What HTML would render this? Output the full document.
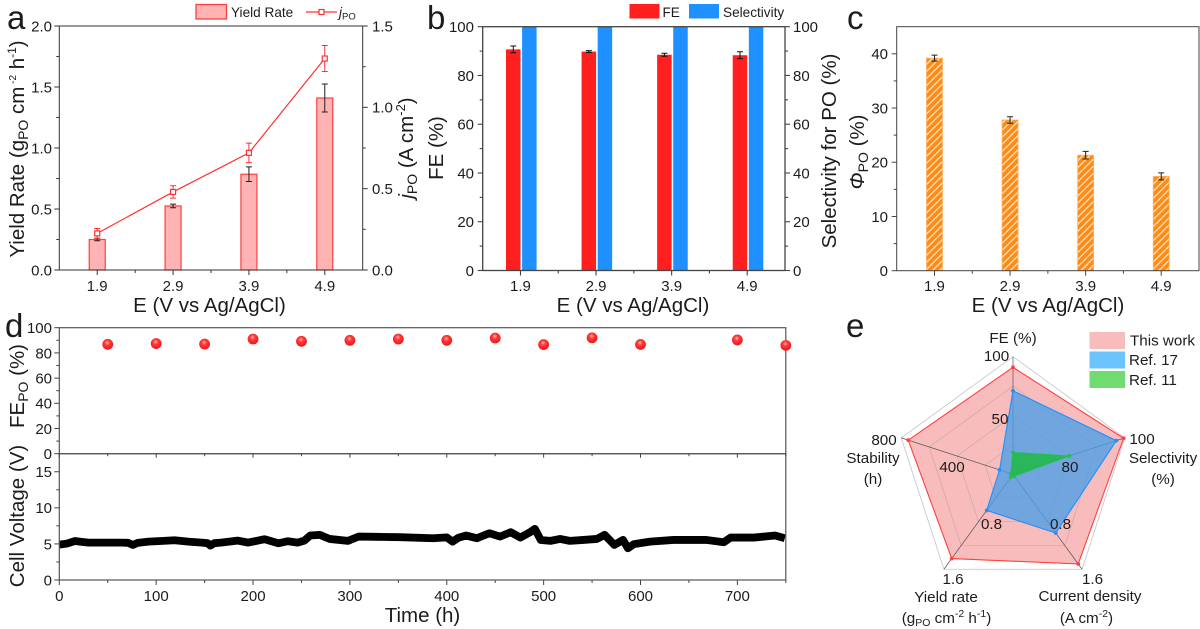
<!DOCTYPE html>
<html lang="en">
<head>
<meta charset="utf-8">
<title>Electrochemical performance panels</title>
<style>
html,body{margin:0;padding:0;background:#fff;width:1200px;height:629px;overflow:hidden}
svg{display:block;font-family:"Liberation Sans",Arial,sans-serif;fill:#1c1c1c;filter:blur(0.35px)}
.t{font-size:15px}
.ti{font-size:20.5px}
.pl{font-size:33px}
.lg{font-size:13.6px}
.r{font-size:15.2px}
</style>
</head>
<body>
<svg id="fig" width="1200" height="629" viewBox="0 0 1200 629" xmlns="http://www.w3.org/2000/svg">
<defs>
<pattern id="hatch" width="5" height="5" patternUnits="userSpaceOnUse" patternTransform="rotate(45)">
<rect width="5" height="5" fill="#ff8a14"/>
<rect x="0" width="1.3" height="5" fill="#ffe3c4"/>
</pattern>
<radialGradient id="ball" cx="0.45" cy="0.35" r="0.65">
<stop offset="0" stop-color="#ffb0b0"/>
<stop offset="0.35" stop-color="#ff3a3a"/>
<stop offset="1" stop-color="#f01414"/>
</radialGradient>
</defs>

<text class="pl" x="7" y="29">a</text>
<text class="pl" x="427" y="29">b</text>
<text class="pl" x="847" y="29">c</text>
<text class="pl" x="5" y="337">d</text>
<text class="pl" x="846" y="337">e</text>

<!-- Panel a titles + legend -->
<text class="ti" text-anchor="middle" x="209.5" y="312">E (V vs Ag/AgCl)</text>
<text class="ti" text-anchor="middle" transform="translate(24,149) rotate(-90)">Yield Rate (g<tspan dy="4" font-size="14">PO</tspan><tspan dy="-4"> cm</tspan><tspan dy="-8" font-size="10"> -2</tspan><tspan dy="8"> h</tspan><tspan dy="-8" font-size="12">-1</tspan><tspan dy="8">)</tspan></text>
<text class="ti" text-anchor="middle" transform="translate(413,148) rotate(-90)"><tspan font-style="italic">j</tspan><tspan dy="4" font-size="14">PO</tspan><tspan dy="-4"> (A cm</tspan><tspan dy="-8" font-size="13">-2</tspan><tspan dy="8">)</tspan></text>
<g>
<rect x="196" y="4.5" width="30.5" height="14.5" fill="#ffb3b3" stroke="#ff4040" stroke-width="1.3"/>
<text class="lg" x="231" y="17">Yield Rate</text>
<line x1="306" x2="337" y1="12" y2="12" stroke="#ff3030" stroke-width="1.2"/>
<rect x="319" y="9.5" width="5" height="5" fill="#fff" stroke="#ff3030" stroke-width="1.2"/>
<text class="lg" x="339" y="17"><tspan font-style="italic">j</tspan><tspan dy="2.5" font-size="9.5">PO</tspan></text>
</g>

<!-- Panel b titles + legend -->
<text class="ti" text-anchor="middle" x="633" y="312">E (V vs Ag/AgCl)</text>
<text class="ti" text-anchor="middle" transform="translate(443,148) rotate(-90)">FE (%)</text>
<text class="ti" text-anchor="middle" transform="translate(836,151) rotate(-90)">Selectivity for PO (%)</text>
<g>
<rect x="629.5" y="4" width="30" height="14.5" fill="#ff1f1f"/>
<text class="lg" x="662.5" y="17">FE</text>
<rect x="689" y="4" width="30" height="14.5" fill="#1e90ff"/>
<text class="lg" x="723" y="17">Selectivity</text>
</g>

<!-- Panel c titles -->
<text class="ti" text-anchor="middle" x="1048" y="312">E (V vs Ag/AgCl)</text>
<text class="ti" text-anchor="middle" transform="translate(864,152) rotate(-90)"><tspan font-style="italic">Φ</tspan><tspan dy="4" font-size="14">PO</tspan><tspan dy="-4"> (%)</tspan></text>

<!-- Panel d titles -->
<text class="ti" text-anchor="middle" x="422.5" y="622">Time (h)</text>
<text class="ti" text-anchor="middle" transform="translate(24,386) rotate(-90)">FE<tspan dy="4" font-size="14">PO</tspan><tspan dy="-4"> (%)</tspan></text>
<text class="ti" text-anchor="middle" transform="translate(24,516) rotate(-90)">Cell Voltage (V)</text>

<!-- Panel e legend + labels -->
<g>
<rect x="1089.5" y="332" width="35.5" height="17" fill="#f9bcbc"/>
<rect x="1089.5" y="351.5" width="35.5" height="17" fill="#6cc4ff"/>
<rect x="1089.5" y="371" width="35.5" height="17" fill="#70dc70"/>
<text class="r" x="1130" y="345.5">This work</text>
<text class="r" x="1129" y="365">Ref. 17</text>
<text class="r" x="1129" y="385">Ref. 11</text>
</g>

<g id="radarLabels" class="r" text-anchor="middle">
<text x="1013" y="343">FE (%)</text>
<text x="996.5" y="361">100</text>
<text x="1000" y="424">50</text>
<text x="1142" y="444">100</text>
<text x="1163" y="463">Selectivity</text>
<text x="1163" y="484">(%)</text>
<text x="1070" y="472">80</text>
<text x="884" y="445">800</text>
<text x="873" y="463">Stability</text>
<text x="873" y="484">(h)</text>
<text x="952" y="472">400</text>
<text x="991.5" y="529">0.8</text>
<text x="1060.5" y="529">0.8</text>
<text x="953" y="584">1.6</text>
<text x="1092.5" y="584">1.6</text>
<text x="946" y="602">Yield rate</text>
<text x="946.5" y="623">(g<tspan dy="3" font-size="10.5">PO</tspan><tspan dy="-3"> cm</tspan><tspan dy="-6" font-size="10.5">-2</tspan><tspan dy="6"> h</tspan><tspan dy="-6" font-size="10.5">-1</tspan><tspan dy="6">)</tspan></text>
<text x="1090" y="601">Current density</text>
<text x="1086.5" y="623">(A cm<tspan dy="-6" font-size="10.5">-2</tspan><tspan dy="6">)</tspan></text>
</g>
</svg>

<script>
// ---- shared categories ----
const categories = ['1.9', '2.9', '3.9', '4.9'];

// ---- panel a ----
const yieldRate = [0.25, 0.525, 0.785, 1.41];
const yieldErr = [0.01, 0.015, 0.06, 0.115];
const jpo = [0.225, 0.48, 0.72, 1.30];
const jpoErr = [0.03, 0.038, 0.06, 0.08];
const aLeftTicks = ['0.0', '0.5', '1.0', '1.5', '2.0'];
const aRightTicks = ['0.0', '0.5', '1.0', '1.5'];

// ---- panel b ----
const feValues = [90.7, 89.8, 88.5, 88.3];
const feErr = [1.4, 0.4, 0.6, 1.4];
const selectivityValues = [100, 100, 100, 100];
const bTicks = ['0', '20', '40', '60', '80', '100'];

// ---- panel c ----
const phiValues = [39.2, 27.8, 21.3, 17.4];
const phiErr = [0.55, 0.6, 0.7, 0.65];
const cTicks = ['0', '10', '20', '30', '40'];

// ---- panel d ----
const feTimes = [50, 100, 150, 200, 250, 300, 350, 400, 450, 500, 550, 600, 700, 750];
const feSeries = [86.8, 87.4, 87, 91, 89.2, 90, 91, 90, 91.8, 86.6, 92, 86.7, 90.3, 86];
const voltTimes = [0, 8, 16, 22, 30, 64, 71, 76, 81, 92, 105, 119, 133, 147, 153, 156, 160, 167, 184, 195, 212, 226, 236, 246, 253, 259, 269, 279, 298, 309, 352, 386, 400, 406, 412, 420, 431, 444, 455, 466, 476, 486, 491, 497, 507, 517, 527, 541, 555, 563, 573, 582, 587, 593, 610, 634, 668, 686, 693, 717, 739, 749];
const voltValues = [4.9, 5.05, 5.4, 5.3, 5.18, 5.18, 5.15, 4.86, 5.15, 5.32, 5.4, 5.51, 5.32, 5.18, 5.1, 4.77, 5.1, 5.18, 5.46, 5.18, 5.65, 5.09, 5.37, 5.18, 5.46, 6.16, 6.25, 5.69, 5.42, 6.02, 5.93, 5.79, 5.9, 5.32, 5.85, 6.16, 5.79, 6.48, 6.02, 6.62, 5.88, 6.62, 7.08, 5.55, 5.42, 5.69, 5.42, 5.55, 5.69, 6.25, 4.86, 5.55, 4.4, 4.96, 5.32, 5.55, 5.55, 5.23, 5.88, 5.88, 6.16, 5.79];
const dXTicks = ['0', '100', '200', '300', '400', '500', '600', '700'];
const dFeTicks = ['0', '20', '40', '60', '80', '100'];
const dVoltTicks = ['0', '5', '10', '15'];

// ---- panel e (values on each spoke: FE, selectivity, current, yield, stability) ----
const radarAxisMin = [0, 60, 0, 0, 0];
const radarAxisMax = [100, 100, 1.6, 1.6, 800];
const thisWork = [91, 99.6, 1.51, 1.42, 750];
const ref17 = [71, 97, 0.99, 0.61, 96];
const ref11 = [18.5, 80.2, 0.03, 0.05, 16];
const radarRings = [0.25, 0.5, 0.75, 1];

const svg = document.getElementById('fig');
const NS = 'http://www.w3.org/2000/svg';

function add(parent, tag, attrs, name, text) {
  const node = document.createElementNS(NS, tag);
  for (const k in attrs) node.setAttribute(k, attrs[k]);
  
  
  if (text !== undefined) node.textContent = text;
  parent.appendChild(node);
  return node;
}
function linear(d0, d1, r0, r1) {
  return v => r0 + (v - d0) * (r1 - r0) / (d1 - d0);
}
function band(x0, x1, n) {
  const step = (x1 - x0) / n;
  return i => x0 + (i + 0.5) * step;
}
function frame(g, box, color, width, name) {
  add(g, 'rect', {x: box.x0, y: box.y0, width: box.x1 - box.x0, height: box.y1 - box.y0, fill: 'none', stroke: color, 'stroke-width': width}, name);
}
function yAxis(g, x, dir, labels, scale, minorStep, color, sw, labelX, name) {
  const vals = labels.map(Number);
  vals.forEach((v, i) => {
    add(g, 'line', {x1: x, x2: x + dir * 5, y1: scale(v), y2: scale(v), stroke: color, 'stroke-width': sw}, name + '-tick');
    add(g, 'text', {class: 't', x: labelX, y: scale(v) + 5.4, 'text-anchor': dir < 0 ? 'end' : 'start'}, name + '-tick-label', labels[i]);
  });
  const lo = vals[0], hi = vals[vals.length - 1];
  const n = Math.round((hi - lo) / minorStep);
  for (let k = 1; k < n; k++) {
    const v = lo + k * minorStep;
    if (vals.some(w => Math.abs(w - v) < 1e-6)) continue;
    add(g, 'line', {x1: x, x2: x + dir * 3, y1: scale(v), y2: scale(v), stroke: color, 'stroke-width': sw}, name + '-minor-tick');
  }
}
function catAxis(g, box, pos, color, sw, name) {
  categories.forEach((c, i) => {
    const x = pos(i);
    add(g, 'line', {x1: x, x2: x, y1: box.y1, y2: box.y1 + 5, stroke: color, 'stroke-width': sw}, name + '-tick');
    add(g, 'text', {class: 't', x: x, y: 291, 'text-anchor': 'middle'}, name + '-tick-label', c);
    if (i < categories.length - 1) {
      const m = (pos(i) + pos(i + 1)) / 2;
      add(g, 'line', {x1: m, x2: m, y1: box.y1, y2: box.y1 + 3, stroke: color, 'stroke-width': sw}, name + '-minor-tick');
    }
  });
}
function errBar(g, x, yScale, value, err, color, sw, name) {
  const t = yScale(value + err), b = yScale(value - err);
  add(g, 'path', {d: `M${x - 3} ${t}H${x + 3}M${x} ${t}V${b}M${x - 3} ${b}H${x + 3}`, fill: 'none', stroke: color, 'stroke-width': sw}, name);
}

// ---- draw panel a ----
(function () {
  const g = add(svg, 'g', {}, 'panel-a-yield-chart');
  const box = {x0: 59.3, x1: 362.7, y0: 26, y1: 270};
  const y = linear(0, 2, box.y1, box.y0);
  const yr = linear(0, 1.5, box.y1, box.y0);
  const xp = band(box.x0, box.x1, categories.length);
  yieldRate.forEach((v, i) => {
    add(g, 'rect', {x: xp(i) - 8, y: y(v), width: 16, height: box.y1 - y(v), fill: '#ffb3b3', stroke: '#ff4040', 'stroke-width': 1.2}, 'yield-bar-' + categories[i]);
    errBar(g, xp(i), y, v, yieldErr[i], '#222', 1, 'yield-error-bar');
  });
  add(g, 'polyline', {points: jpo.map((v, i) => xp(i) + ',' + yr(v)).join(' '), fill: 'none', stroke: '#ff3030', 'stroke-width': 1.2}, 'jpo-line');
  jpo.forEach((v, i) => {
    errBar(g, xp(i), yr, v, jpoErr[i], '#ff3030', 1, 'jpo-error-bar');
    add(g, 'rect', {x: xp(i) - 2.5, y: yr(v) - 2.5, width: 5, height: 5, fill: '#fff', stroke: '#ff3030', 'stroke-width': 1.2}, 'jpo-point-' + categories[i]);
  });
  frame(g, box, '#333', 1, 'a-plot-frame');
  yAxis(g, box.x0, -1, aLeftTicks, y, 0.25, '#333', 1, 52, 'a-left-axis');
  yAxis(g, box.x1, 1, aRightTicks, yr, 0.25, '#333', 1, 372, 'a-right-axis');
  catAxis(g, box, xp, '#333', 1, 'a-x-axis');
})();

// ---- draw panel b ----
(function () {
  const g = add(svg, 'g', {}, 'panel-b-fe-selectivity-chart');
  const box = {x0: 482.7, x1: 785, y0: 26.7, y1: 270.5};
  const y = linear(0, 100, box.y1, box.y0);
  const xp = band(box.x0, box.x1, categories.length);
  categories.forEach((c, i) => {
    add(g, 'rect', {x: xp(i) - 14.5, y: y(feValues[i]), width: 14.5, height: box.y1 - y(feValues[i]), fill: '#ff1f1f'}, 'fe-bar-' + c);
    add(g, 'rect', {x: xp(i) + 1.6, y: y(selectivityValues[i]), width: 14.5, height: box.y1 - y(selectivityValues[i]), fill: '#1e90ff'}, 'selectivity-bar-' + c);
    errBar(g, xp(i) - 7.2, y, feValues[i], feErr[i], '#111', 1, 'fe-error-bar');
  });
  frame(g, box, '#444', 1.3, 'b-plot-frame');
  yAxis(g, box.x0, -1, bTicks, y, 10, '#444', 1.1, 474, 'b-left-axis');
  yAxis(g, box.x1, 1, bTicks, y, 10, '#444', 1.1, 793, 'b-right-axis');
  catAxis(g, box, xp, '#444', 1.1, 'b-x-axis');
})();

// ---- draw panel c ----
(function () {
  const g = add(svg, 'g', {}, 'panel-c-phi-chart');
  const box = {x0: 896.7, x1: 1199, y0: 26.7, y1: 270.7};
  const y = linear(0, 45, box.y1, box.y0);
  const xp = band(box.x0, box.x1, categories.length);
  phiValues.forEach((v, i) => {
    add(g, 'rect', {x: xp(i) - 8, y: y(v), width: 16, height: box.y1 - y(v), fill: 'url(#hatch)', stroke: '#ffb266', 'stroke-width': 0.8}, 'phi-bar-' + categories[i]);
    errBar(g, xp(i), y, v, phiErr[i], '#222', 1, 'phi-error-bar');
  });
  frame(g, box, '#444', 1, 'c-plot-frame');
  yAxis(g, box.x0, -1, cTicks, y, 5, '#444', 1, 888, 'c-y-axis');
  catAxis(g, box, xp, '#444', 1, 'c-x-axis');
})();

// ---- draw panel d ----
(function () {
  const g = add(svg, 'g', {}, 'panel-d-stability-chart');
  const x = linear(0, 750, 59.3, 785.8);
  const top = {x0: 59.3, x1: 785.8, y0: 327.7, y1: 453.7};
  const bot = {x0: 59.3, x1: 785.8, y0: 453.7, y1: 580};
  const yFe = linear(0, 100, top.y1, top.y0);
  const yV = linear(0, 17.5, bot.y1, bot.y0);
  let d = '';
  voltTimes.forEach((t, i) => { d += (i ? 'L' : 'M') + x(t) + ' ' + yV(voltValues[i]); });
  add(g, 'path', {d: d, fill: 'none', stroke: '#000', 'stroke-width': 7.8, 'stroke-linejoin': 'round', 'stroke-linecap': 'butt'}, 'cell-voltage-line');
  frame(g, top, '#555', 1.2, 'd-top-plot-frame');
  frame(g, bot, '#555', 1.2, 'd-bottom-plot-frame');
  feTimes.forEach((t, i) => {
    add(g, 'circle', {cx: x(t), cy: yFe(feSeries[i]), r: 5.4, fill: 'url(#ball)'}, 'fe-point-' + t);
  });
  yAxis(g, top.x0, -1, dFeTicks, yFe, 10, '#444', 1, 52, 'd-fe-axis');
  yAxis(g, bot.x0, -1, dVoltTicks, yV, 2.5, '#444', 1, 52, 'd-voltage-axis');
  dXTicks.forEach(lbl => {
    const v = Number(lbl);
    add(g, 'line', {x1: x(v), x2: x(v), y1: bot.y1, y2: bot.y1 + 5, stroke: '#444', 'stroke-width': 1}, 'd-x-axis-tick');
    add(g, 'line', {x1: x(v), x2: x(v), y1: bot.y0, y2: bot.y0 + 4, stroke: '#444', 'stroke-width': 1}, 'd-mid-axis-tick');
    add(g, 'text', {class: 't', x: x(v), y: 601, 'text-anchor': 'middle'}, 'd-x-axis-tick-label', lbl);
    const m = v + 50;
    add(g, 'line', {x1: x(m), x2: x(m), y1: bot.y1, y2: bot.y1 + 3, stroke: '#444', 'stroke-width': 1}, 'd-x-axis-minor-tick');
    add(g, 'line', {x1: x(m), x2: x(m), y1: bot.y0, y2: bot.y0 + 2.5, stroke: '#444', 'stroke-width': 1}, 'd-mid-axis-minor-tick');
  });
})();

// ---- draw panel e ----
(function () {
  const labels = document.getElementById('radarLabels');
  const g = document.createElementNS(NS, 'g');
  
  
  svg.insertBefore(g, labels);
  const cx = 1013, cy = 474.2, R = 117.5;
  const angle = i => (-90 + 72 * i) * Math.PI / 180;
  const pt = (i, frac) => [cx + R * frac * Math.cos(angle(i)), cy + R * frac * Math.sin(angle(i))];
  const frac = (vals, i) => (vals[i] - radarAxisMin[i]) / (radarAxisMax[i] - radarAxisMin[i]);
  const pts = vals => vals.map((v, i) => pt(i, frac(vals, i)));
  const series = [
    {vals: thisWork, fill: '#f9bcbc', op: 1, stroke: '#ff4040', name: 'this-work'},
    {vals: ref17, fill: '#4a9fe8', op: 0.78, stroke: '#1e90ff', name: 'ref-17'},
    {vals: ref11, fill: '#22b84c', op: 0.9, stroke: '#22c04c', name: 'ref-11'}
  ];
  // Outer pentagon first, this-work fill beneath the grid
  add(g, 'polygon', {points: radarAxisMax.map((v, i) => pt(i, 1).join(',')).join(' '), fill: '#fff', stroke: '#c4c4c4', 'stroke-width': 0.8}, 'radar-outer-ring');
  series.slice(0, 1).forEach(s => {
    add(g, 'polygon', {points: pts(s.vals).map(p => p.join(',')).join(' '), fill: s.fill, stroke: s.stroke, 'stroke-width': 1.1}, 'radar-area-' + s.name);
  });
  radarRings.slice(0, 3).forEach(r => {
    add(g, 'polygon', {points: radarAxisMax.map((v, i) => pt(i, r).join(',')).join(' '), fill: 'none', stroke: '#999', 'stroke-opacity': 0.6, 'stroke-width': 0.6}, 'radar-grid-ring');
  });
  radarAxisMax.forEach((v, i) => {
    const p = pt(i, 1);
    add(g, 'line', {x1: cx, y1: cy, x2: p[0], y2: p[1], stroke: '#555', 'stroke-width': 0.7}, 'radar-spoke');
  });
  series.slice(1).forEach(s => {
    add(g, 'polygon', {points: pts(s.vals).map(p => p.join(',')).join(' '), fill: s.fill, 'fill-opacity': s.op, stroke: s.stroke, 'stroke-width': 1.1}, 'radar-area-' + s.name);
  });
  series.forEach(s => {
    pts(s.vals).forEach(p => {
      add(g, 'circle', {cx: p[0], cy: p[1], r: 1.9, fill: s.stroke}, 'radar-point-' + s.name);
    });
  });
})();
</script>
</body>
</html>
